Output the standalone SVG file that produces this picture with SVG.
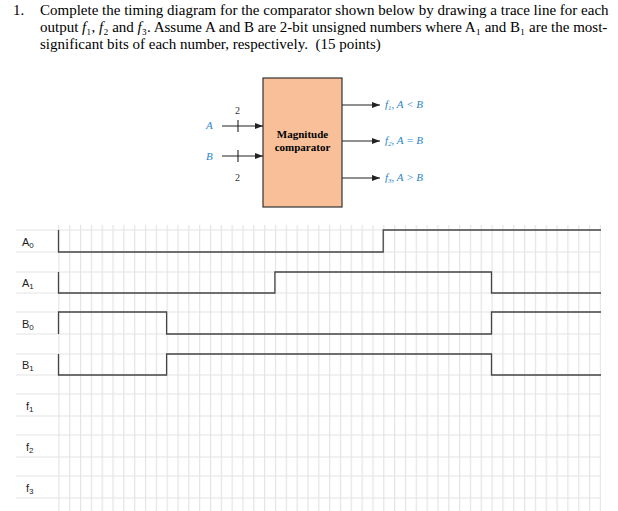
<svg xmlns="http://www.w3.org/2000/svg" width="618" height="511" viewBox="0 0 618 511">
<style>
.t{font-family:"Liberation Serif",serif;font-size:15px;fill:#000}
.bl{font-family:"Liberation Serif",serif;font-size:11px;fill:#2a86c8;font-style:italic}
.n{font-family:"Liberation Serif",serif;font-size:10px;fill:#333}
.lab{font-family:"Liberation Sans",sans-serif;font-size:11px;fill:#222}
.g{stroke:#e4e4e4;stroke-width:1.2}
.s{fill:none;stroke:#444;stroke-width:1.3}
.w{stroke:#222;stroke-width:1.1}
</style>
<defs>
<marker id="ar" markerWidth="8" markerHeight="6" refX="8" refY="3" orient="auto" markerUnits="userSpaceOnUse"><path d="M0,0L8,3L0,6z" fill="#222"/></marker>
<pattern id="vg" x="58.3" y="0" width="10.83" height="511" patternUnits="userSpaceOnUse"><line x1="0.6" y1="0" x2="0.6" y2="511" stroke="#e4e4e4" stroke-width="1.2"/></pattern>
</defs>
<rect width="618" height="511" fill="#fff"/>
<text class="t" x="13" y="15">1.</text>
<text class="t" x="40" y="15">Complete the timing diagram for the comparator shown below by drawing a trace line for each</text>
<text class="t" x="40" y="32">output <tspan font-style="italic">f</tspan>₁, <tspan font-style="italic">f</tspan>₂ and <tspan font-style="italic">f</tspan>₃. Assume A and B are 2-bit unsigned numbers where A₁ and B₁ are the most-</text>
<text class="t" x="40" y="49" xml:space="preserve">significant bits of each number, respectively.  (15 points)</text>
<g id="comparator">
<rect x="263" y="78" width="79" height="129" fill="#f9bf98" stroke="#333" stroke-width="1.2"/>
<text x="302.5" y="138" text-anchor="middle" font-family="Liberation Serif,serif" font-size="11" font-weight="bold">Magnitude</text>
<text x="302.5" y="151" text-anchor="middle" font-family="Liberation Serif,serif" font-size="11" font-weight="bold">comparator</text>
</g>
<g id="inputs">
<text class="bl" x="206" y="129">A</text>
<text class="bl" x="206" y="160">B</text>
<text class="n" x="235" y="114">2</text>
<text class="n" x="235" y="181">2</text>
</g>
<g id="outputs">
<text class="bl" x="385" y="108">f<tspan font-size="7" dy="2">1</tspan><tspan dy="-2">, A &lt; B</tspan></text>
<text class="bl" x="385" y="144">f<tspan font-size="7" dy="2">2</tspan><tspan dy="-2">, A = B</tspan></text>
<text class="bl" x="385" y="181">f<tspan font-size="7" dy="2">3</tspan><tspan dy="-2">, A &gt; B</tspan></text>
</g>
<g id="connectors">
<line class="w" x1="222" y1="126" x2="263" y2="126" marker-end="url(#ar)"/>
<line class="w" x1="222" y1="156" x2="263" y2="156" marker-end="url(#ar)"/>
<line class="w" x1="238" y1="120" x2="238" y2="132"/>
<line class="w" x1="238" y1="150" x2="238" y2="162"/>
<line class="w" x1="342" y1="105" x2="380" y2="105" marker-end="url(#ar)"/>
<line class="w" x1="342" y1="141" x2="380" y2="141" marker-end="url(#ar)"/>
<line class="w" x1="342" y1="178" x2="380" y2="178" marker-end="url(#ar)"/>
</g>
<g id="grid">
<rect x="58" y="225" width="543" height="286" fill="url(#vg)"/>
<path class="g" d="M16 230H601M16 252H601M16 272H601M16 293H601M16 312H601M16 334H601M16 354H601M16 375H601M16 394H601M16 416H601M16 435H601M16 457H601M16 476H601M16 498H601"/>
</g>
<g id="labels" class="lab">
<text x="22" y="246">A<tspan font-size="8" dy="2">0</tspan></text>
<text x="22" y="287">A<tspan font-size="8" dy="2">1</tspan></text>
<text x="22" y="328">B<tspan font-size="8" dy="2">0</tspan></text>
<text x="22" y="369">B<tspan font-size="8" dy="2">1</tspan></text>
<text x="26" y="410">f<tspan font-size="8" dy="2">1</tspan></text>
<text x="26" y="451">f<tspan font-size="8" dy="2">2</tspan></text>
<text x="26" y="492">f<tspan font-size="8" dy="2">3</tspan></text>
</g>
<g id="traces">
<path class="s" d="M58.5 230V252H383.2V230H601"/>
<path class="s" d="M58.5 272V293H274.9V272H491.5V293H601"/>
<path class="s" d="M58.5 334V312H166.6V334H491.5V312H601"/>
<path class="s" d="M58.5 354V375H166.6V354H491.5V375H601"/>
</g>
</svg>
